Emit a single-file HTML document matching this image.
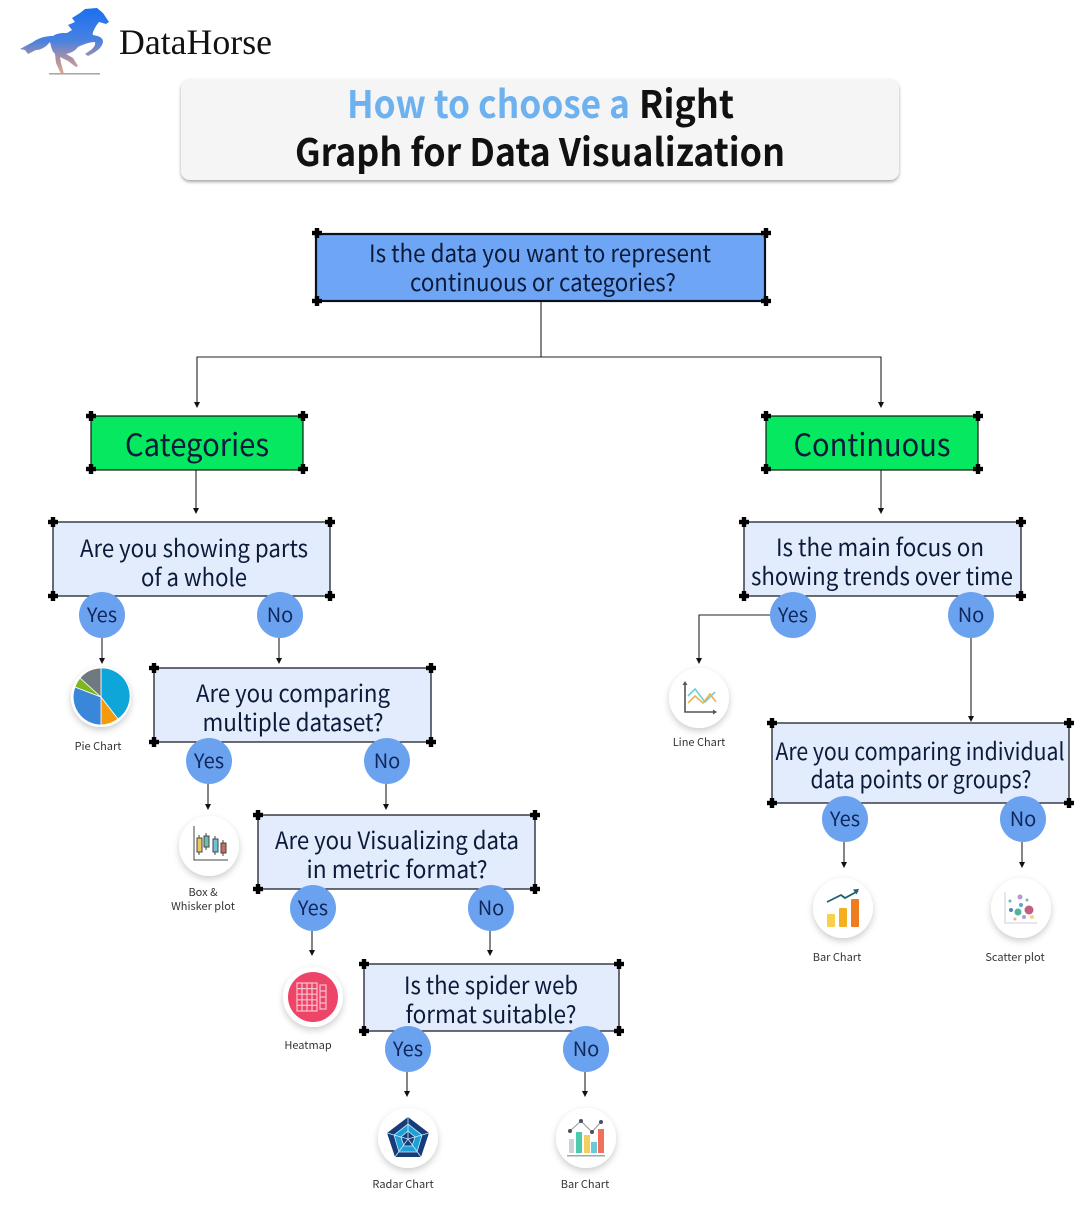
<!DOCTYPE html>
<html><head><meta charset="utf-8">
<style>
html,body{margin:0;padding:0;background:#fff;width:1080px;height:1209px;overflow:hidden}
svg{display:block}
.t{font-family:"Noto Sans CJK JP","Liberation Sans",sans-serif;fill:#0c1b3a;text-anchor:middle}
.q{font-size:24px}
.c{font-size:20px;fill:#10275a}
.l{font-size:11px;fill:#333}
.box{stroke:#0b0f1a;stroke-width:1.2;fill:#e3ecfc}
.ln{stroke:#222;stroke-width:1.1;fill:none}
.ah{fill:#111}
.yn{fill:#6aa2f0}
.ic{fill:#fff;filter:url(#s)}
</style></head><body>
<svg width="1080" height="1209" viewBox="0 0 1080 1209" xmlns="http://www.w3.org/2000/svg">
<defs>
<linearGradient id="hg" x1="0" y1="0" x2="0" y2="1"><stop offset="0" stop-color="#1a6ff0"/><stop offset=".5" stop-color="#4a82e0"/><stop offset=".75" stop-color="#a58fa6"/><stop offset="1" stop-color="#e0a98a"/></linearGradient>
<filter id="s" x="-30%" y="-30%" width="160%" height="170%"><feDropShadow dx="0" dy="3" stdDeviation="3.5" flood-color="#000" flood-opacity=".2"/></filter>
<filter id="s2" x="-5%" y="-10%" width="110%" height="125%"><feDropShadow dx="0" dy="2" stdDeviation="1.5" flood-color="#000" flood-opacity=".35"/></filter>
<g id="h"><rect x="-2.2" y="-5" width="4.4" height="10"/><rect x="-5" y="-2.2" width="10" height="4.4"/></g>
</defs>

<!-- logo -->
<path fill="url(#hg)" d="M20 49 L33 42 C40 37 47 36 53 36 C57 33 62 33 67 33 L72 30 L68 25 L75 22 L72 18 L80 13 L85 9 L97 8 L103 13 L109 22 L106 24 L99 22 L96 26 C94 30 92 33 93 35 C98 36 103 37 103 42 C102 48 96 52 88 56 L85 54 C91 50 96 47 95 42 C90 42 84 44 78 47 C74 52 70 53 66 54 L73 58 L78 66 L76 67 L68 61 L60 57 L61 63 L64 74 L61 74 L56 63 L55 54 C51 50 51 45 50 42 C46 47 41 50 36 50 L28 54 L25 50 Z"/>
<rect x="49" y="73" width="51" height="1.6" fill="#aaa"/>
<text x="119" y="54" font-family="'Liberation Serif',serif" font-size="36" fill="#111" textLength="153" lengthAdjust="spacingAndGlyphs">DataHorse</text>

<!-- title -->
<rect x="181" y="79" width="718" height="101" rx="9" fill="#f5f5f5" filter="url(#s2)"/>
<text class="t" y="118" font-size="38" font-weight="700" style="text-anchor:start"><tspan x="347" fill="#6db1ef" textLength="283" lengthAdjust="spacingAndGlyphs">How to choose a</tspan><tspan x="639" fill="#111" textLength="95" lengthAdjust="spacingAndGlyphs">Right</tspan></text>
<text class="t" x="540" y="166" font-size="38" font-weight="700" style="fill:#111" textLength="490" lengthAdjust="spacingAndGlyphs">Graph for Data Visualization</text>

<!-- connectors -->
<path class="ln" d="M541 301V357M197 402V357H881V402M196 470V508M881 470V508M102 638V658M279 638V658M208 784V804M386 784V804M312 931V950M490 931V950M407 1072V1091M585 1072V1091M770 615H699V658M971 638V716M844 842V862M1022 842V862"/>
<g class="ah">
<path d="M194 402h6l-3 6zM878 402h6l-3 6zM193 508h6l-3 6zM878 508h6l-3 6zM99 658h6l-3 6zM276 658h6l-3 6zM205 804h6l-3 6zM383 804h6l-3 6zM309 950h6l-3 6zM487 950h6l-3 6zM404 1091h6l-3 6zM582 1091h6l-3 6zM696 658h6l-3 6zM968 716h6l-3 6zM841 862h6l-3 6zM1019 862h6l-3 6z"/>
</g>

<!-- main boxes -->
<rect x="316" y="234" width="449" height="67" fill="#6ea6f5" stroke="#0b1020" stroke-width="2.2"/>
<text class="t q" x="540" y="262" textLength="342" lengthAdjust="spacingAndGlyphs">Is the data you want to represent</text>
<text class="t q" x="543" y="291" textLength="266" lengthAdjust="spacingAndGlyphs">continuous or categories?</text>
<rect x="91" y="416" width="212" height="54" fill="#06e860" stroke="#0b1a10" stroke-width="1.2"/>
<text class="t" x="197" y="456" font-size="31" textLength="144" lengthAdjust="spacingAndGlyphs">Categories</text>
<rect x="766" y="416" width="212" height="54" fill="#06e860" stroke="#0b1a10" stroke-width="1.2"/>
<text class="t" x="872" y="456" font-size="31" textLength="157" lengthAdjust="spacingAndGlyphs">Continuous</text>

<rect class="box" x="53" y="522" width="277" height="74"/>
<text class="t q" x="194" y="557" textLength="228" lengthAdjust="spacingAndGlyphs">Are you showing parts</text>
<text class="t q" x="194" y="586" textLength="106" lengthAdjust="spacingAndGlyphs">of a whole</text>
<rect class="box" x="154" y="668" width="277" height="74"/>
<text class="t q" x="293" y="702" textLength="194" lengthAdjust="spacingAndGlyphs">Are you comparing</text>
<text class="t q" x="293" y="731" textLength="181" lengthAdjust="spacingAndGlyphs">multiple dataset?</text>
<rect class="box" x="258" y="815" width="277" height="74"/>
<text class="t q" x="397" y="849" textLength="244" lengthAdjust="spacingAndGlyphs">Are you Visualizing data</text>
<text class="t q" x="397" y="878" textLength="181" lengthAdjust="spacingAndGlyphs">in metric format?</text>
<rect class="box" x="364" y="964" width="255" height="67"/>
<text class="t q" x="491" y="994" textLength="174" lengthAdjust="spacingAndGlyphs">Is the spider web</text>
<text class="t q" x="491" y="1023" textLength="171" lengthAdjust="spacingAndGlyphs">format suitable?</text>
<rect class="box" x="744" y="522" width="277" height="74"/>
<text class="t q" x="880" y="556" textLength="208" lengthAdjust="spacingAndGlyphs">Is the main focus on</text>
<text class="t q" x="882" y="585" textLength="262" lengthAdjust="spacingAndGlyphs">showing trends over time</text>
<rect class="box" x="772" y="723" width="297" height="80"/>
<text class="t q" x="920" y="760" textLength="289" lengthAdjust="spacingAndGlyphs">Are you comparing individual</text>
<text class="t q" x="921" y="788" textLength="221" lengthAdjust="spacingAndGlyphs">data points or groups?</text>

<!-- handles -->
<g fill="#000">
<use href="#h" x="317" y="233"/><use href="#h" x="766" y="233"/><use href="#h" x="317" y="301"/><use href="#h" x="766" y="301"/>
<use href="#h" x="91" y="416"/><use href="#h" x="303" y="416"/><use href="#h" x="91" y="469"/><use href="#h" x="303" y="469"/>
<use href="#h" x="766" y="416"/><use href="#h" x="978" y="416"/><use href="#h" x="766" y="469"/><use href="#h" x="978" y="469"/>
<use href="#h" x="53" y="522"/><use href="#h" x="330" y="522"/><use href="#h" x="53" y="596"/><use href="#h" x="330" y="596"/>
<use href="#h" x="154" y="668"/><use href="#h" x="431" y="668"/><use href="#h" x="154" y="742"/><use href="#h" x="431" y="742"/>
<use href="#h" x="258" y="815"/><use href="#h" x="535" y="815"/><use href="#h" x="258" y="889"/><use href="#h" x="535" y="889"/>
<use href="#h" x="364" y="964"/><use href="#h" x="619" y="964"/><use href="#h" x="364" y="1031"/><use href="#h" x="619" y="1031"/>
<use href="#h" x="744" y="522"/><use href="#h" x="1021" y="522"/><use href="#h" x="744" y="596"/><use href="#h" x="1021" y="596"/>
<use href="#h" x="772" y="723"/><use href="#h" x="1069" y="723"/><use href="#h" x="772" y="803"/><use href="#h" x="1069" y="803"/>
</g>

<!-- yes/no -->
<g>
<circle class="yn" cx="102" cy="615" r="23"/><text class="t c" x="102" y="622">Yes</text>
<circle class="yn" cx="280" cy="615" r="23"/><text class="t c" x="280" y="622">No</text>
<circle class="yn" cx="209" cy="761" r="23"/><text class="t c" x="209" y="768">Yes</text>
<circle class="yn" cx="387" cy="761" r="23"/><text class="t c" x="387" y="768">No</text>
<circle class="yn" cx="313" cy="908" r="23"/><text class="t c" x="313" y="915">Yes</text>
<circle class="yn" cx="491" cy="908" r="23"/><text class="t c" x="491" y="915">No</text>
<circle class="yn" cx="408" cy="1049" r="23"/><text class="t c" x="408" y="1056">Yes</text>
<circle class="yn" cx="586" cy="1049" r="23"/><text class="t c" x="586" y="1056">No</text>
<circle class="yn" cx="793" cy="615" r="23"/><text class="t c" x="793" y="622">Yes</text>
<circle class="yn" cx="971" cy="615" r="23"/><text class="t c" x="971" y="622">No</text>
<circle class="yn" cx="845" cy="819" r="23"/><text class="t c" x="845" y="826">Yes</text>
<circle class="yn" cx="1023" cy="819" r="23"/><text class="t c" x="1023" y="826">No</text>
</g>

<!-- pie -->
<circle class="ic" cx="101" cy="697" r="30"/>
<g stroke="#fff" stroke-width=".8">
<path d="M101 697V668A28 28 0 0 1 118 719Z" fill="#0ea5d8"/>
<path d="M101 697L118 719A28 28 0 0 1 101 725Z" fill="#f59a0c"/>
<path d="M101 697V725A28 28 0 0 1 75 687Z" fill="#3a87d9"/>
<path d="M101 697L75 687A28 28 0 0 1 80 678Z" fill="#7fb51e"/>
<path d="M101 697L80 678A28 28 0 0 1 101 668Z" fill="#6f7a80"/>
</g>
<!-- box whisker -->
<circle class="ic" cx="209" cy="846" r="30"/>
<g stroke="#444" stroke-width="1" fill="none"><path d="M194 826V860H228"/>
<path d="M199 835v3m0 14v3M206 833v3m0 11v3M215 836v3m0 13v3M223 840v3m0 10v3"/>
<rect x="197" y="838" width="5" height="14" fill="#eac85e"/><rect x="204" y="836" width="5" height="11" fill="#6cbfae"/><rect x="213" y="839" width="5" height="13" fill="#6ec4d4"/><rect x="221" y="843" width="5" height="10" fill="#c0705f"/></g>
<!-- heatmap -->
<circle class="ic" cx="313" cy="997" r="30"/>
<circle cx="313" cy="997" r="25" fill="#ee4468"/>
<g stroke="#f6c4cf" stroke-width="1.2" fill="none"><rect x="297" y="983" width="20" height="28"/><path d="M297 988.600h20M297 994.200h20M297 999.800h20M297 1005.400h20M302 983v28M307 983v28M312 983v28"/><rect x="320" y="985" width="6" height="24"/><path d="M320 991h6M320 997h6M320 1003h6"/></g>
<!-- radar -->
<circle class="ic" cx="408" cy="1138" r="30"/>
<path d="M408 1117L429 1133L421 1157H395L387 1133Z" fill="#163d7a"/>
<path d="M408 1124L422 1135L417 1152H399L394 1135Z" fill="#1f9fd8" stroke="#cfeaf7" stroke-width=".8"/>
<path d="M408 1131L415 1137L412 1146H404L401 1137Z" fill="#163d7a" stroke="#cfeaf7" stroke-width=".8"/>
<path d="M408 1117V1139L429 1133M408 1139L421 1157M408 1139L395 1157M408 1139L387 1133" stroke="#cfeaf7" stroke-width=".8" fill="none"/>
<!-- bar 1 -->
<circle class="ic" cx="586" cy="1138" r="30"/>
<rect x="569" y="1139" width="5" height="14" fill="#c8d4d8"/><rect x="576" y="1132" width="6" height="21" fill="#4fc9ac"/><rect x="584" y="1135" width="6" height="18" fill="#f2cf5e"/><rect x="591" y="1142" width="6" height="11" fill="#6ec8dc"/><rect x="598" y="1129" width="6" height="24" fill="#f0705a"/>
<rect x="567" y="1155" width="38" height="1.500" fill="#9aa"/>
<path d="M570 1131L581 1121L592 1132L601 1122" stroke="#999" fill="none"/>
<g fill="#4a5060"><circle cx="570" cy="1131" r="2"/><circle cx="581" cy="1121" r="2"/><circle cx="592" cy="1132" r="2"/><circle cx="601" cy="1122" r="2"/></g>
<!-- line -->
<circle class="ic" cx="699" cy="698" r="30"/>
<path d="M685 684V712H714" stroke="#555" stroke-width="1.6" fill="none"/>
<path d="M685 681l-2.500 4h5zM717 712l-4 -2.500v5z" fill="#555"/>
<path d="M688 696L695 689L705 702L715 692" stroke="#6fd0d4" stroke-width="1.6" fill="none"/>
<path d="M688 703L695 696L703 703L710 694L716 702" stroke="#efb34e" stroke-width="1.6" fill="none"/>
<!-- bar 2 -->
<circle class="ic" cx="843" cy="908" r="30"/>
<rect x="827" y="914" width="8" height="13" rx="1" fill="#f8d04a"/><rect x="839" y="908" width="8" height="19" rx="1" fill="#f4b020"/><rect x="851" y="899" width="8" height="28" rx="1" fill="#f07c20"/>
<path d="M827 902L841 895L845 898L858 891" stroke="#1e6070" stroke-width="1.800" fill="none"/>
<path d="M859 889l-6 .5l3.500 5z" fill="#1e6070"/>
<!-- scatter -->
<circle class="ic" cx="1021" cy="908" r="30"/>
<path d="M1005 892V923H1037" stroke="#ccd" stroke-width="1" fill="none"/>
<circle cx="1029" cy="910" r="4.500" fill="#c25f80"/><circle cx="1018" cy="912" r="3.500" fill="#4cb59a"/><circle cx="1020" cy="897" r="2.500" fill="#b49ad0"/><circle cx="1021" cy="905" r="2" fill="#5aa7c8"/><circle cx="1011" cy="910" r="2" fill="#5a80b0"/><circle cx="1010" cy="901" r="1.500" fill="#5cc0b0"/><circle cx="1027" cy="900" r="1.500" fill="#7ac0a0"/><circle cx="1024" cy="917" r="2" fill="#b49ad0"/><circle cx="1015" cy="919" r="1.500" fill="#f0b090"/><circle cx="1032" cy="917" r="2" fill="#f3d68a"/>

<!-- labels -->
<text class="t l" x="98" y="750">Pie Chart</text>
<text class="t l" x="203" y="896">Box &amp;</text>
<text class="t l" x="203" y="910">Whisker plot</text>
<text class="t l" x="308" y="1049">Heatmap</text>
<text class="t l" x="403" y="1188">Radar Chart</text>
<text class="t l" x="585" y="1188">Bar Chart</text>
<text class="t l" x="699" y="746">Line Chart</text>
<text class="t l" x="837" y="961">Bar Chart</text>
<text class="t l" x="1015" y="961">Scatter plot</text>
</svg>
</body></html>
